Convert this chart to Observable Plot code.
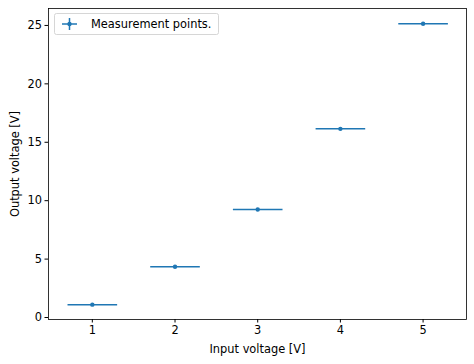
<!DOCTYPE html>
<html><head><meta charset="utf-8">
<script src="https://cdn.jsdelivr.net/npm/d3@7"></script>
<script src="https://cdn.jsdelivr.net/npm/@observablehq/plot@0.6"></script>
<style>body{margin:0;background:#fff}#chart{position:relative;width:474px;height:364px}</style>
</head><body><div id="chart"></div>
<script>
const inputV = [1, 2, 3, 4, 5];
const outputV = [1.1, 4.35, 9.25, 16.15, 25.15];
const xErr = [0.3, 0.3, 0.3, 0.3, 0.3];
const xTicks = [1, 2, 3, 4, 5];
const yTicks = [0, 5, 10, 15, 20, 25];
const seriesName = "Measurement points.";
const color = "#1f77b4";

const data = inputV.map((x, i) => ({x, y: outputV[i], e: xErr[i]}));

const plot = Plot.plot({
  width: 474, height: 364,
  marginLeft: 48, marginRight: 8, marginTop: 8, marginBottom: 45,
  style: {fontFamily: "DejaVu Sans", fontSize: "11.4px", color: "#000", background: "#fff"},
  x: {domain: [0.47, 5.525]},
  y: {domain: [-0.17, 26.45]},
  marks: [
    Plot.axisX({ticks: xTicks, tickSize: 3.5, tickPadding: 3, tickFormat: d => String(d),
      label: "Input voltage [V]", labelAnchor: "center", labelArrow: "none", labelOffset: 33}),
    Plot.axisY({ticks: yTicks, tickSize: 3.5, tickPadding: 3, tickFormat: d => String(d),
      label: "Output voltage [V]", labelAnchor: "center", labelArrow: "none", labelOffset: 38}),
    Plot.link(data, {x1: d => d.x - d.e, x2: d => d.x + d.e, y1: "y", y2: "y", stroke: color, strokeWidth: 1.5}),
    Plot.dot(data, {x: "x", y: "y", r: 2.2, fill: color, stroke: "none"}),
    Plot.frame({stroke: "#000", strokeWidth: 0.8})
  ]
});
document.getElementById("chart").appendChild(plot);

// legend
const svg = d3.select(plot);
const g = svg.append("g");
g.append("rect").attr("x", 54.5).attr("y", 13.5).attr("width", 164).attr("height", 21)
  .attr("rx", 2).attr("fill", "#fff").attr("fill-opacity", 0.8).attr("stroke", "#ccc").attr("stroke-width", 0.8);
g.append("line").attr("x1", 62).attr("x2", 77).attr("y1", 24).attr("y2", 24).attr("stroke", color).attr("stroke-width", 1.5);
g.append("line").attr("x1", 69.5).attr("x2", 69.5).attr("y1", 18).attr("y2", 30).attr("stroke", color).attr("stroke-width", 1.5);
g.append("circle").attr("cx", 69.5).attr("cy", 24).attr("r", 2.2).attr("fill", color);
g.append("text").attr("x", 91).attr("y", 24).attr("dy", "0.35em").attr("font-size", "11.4px")
  .attr("text-anchor", "start")
  .attr("font-family", "DejaVu Sans").attr("fill", "#000").text(seriesName);
</script></body></html>
